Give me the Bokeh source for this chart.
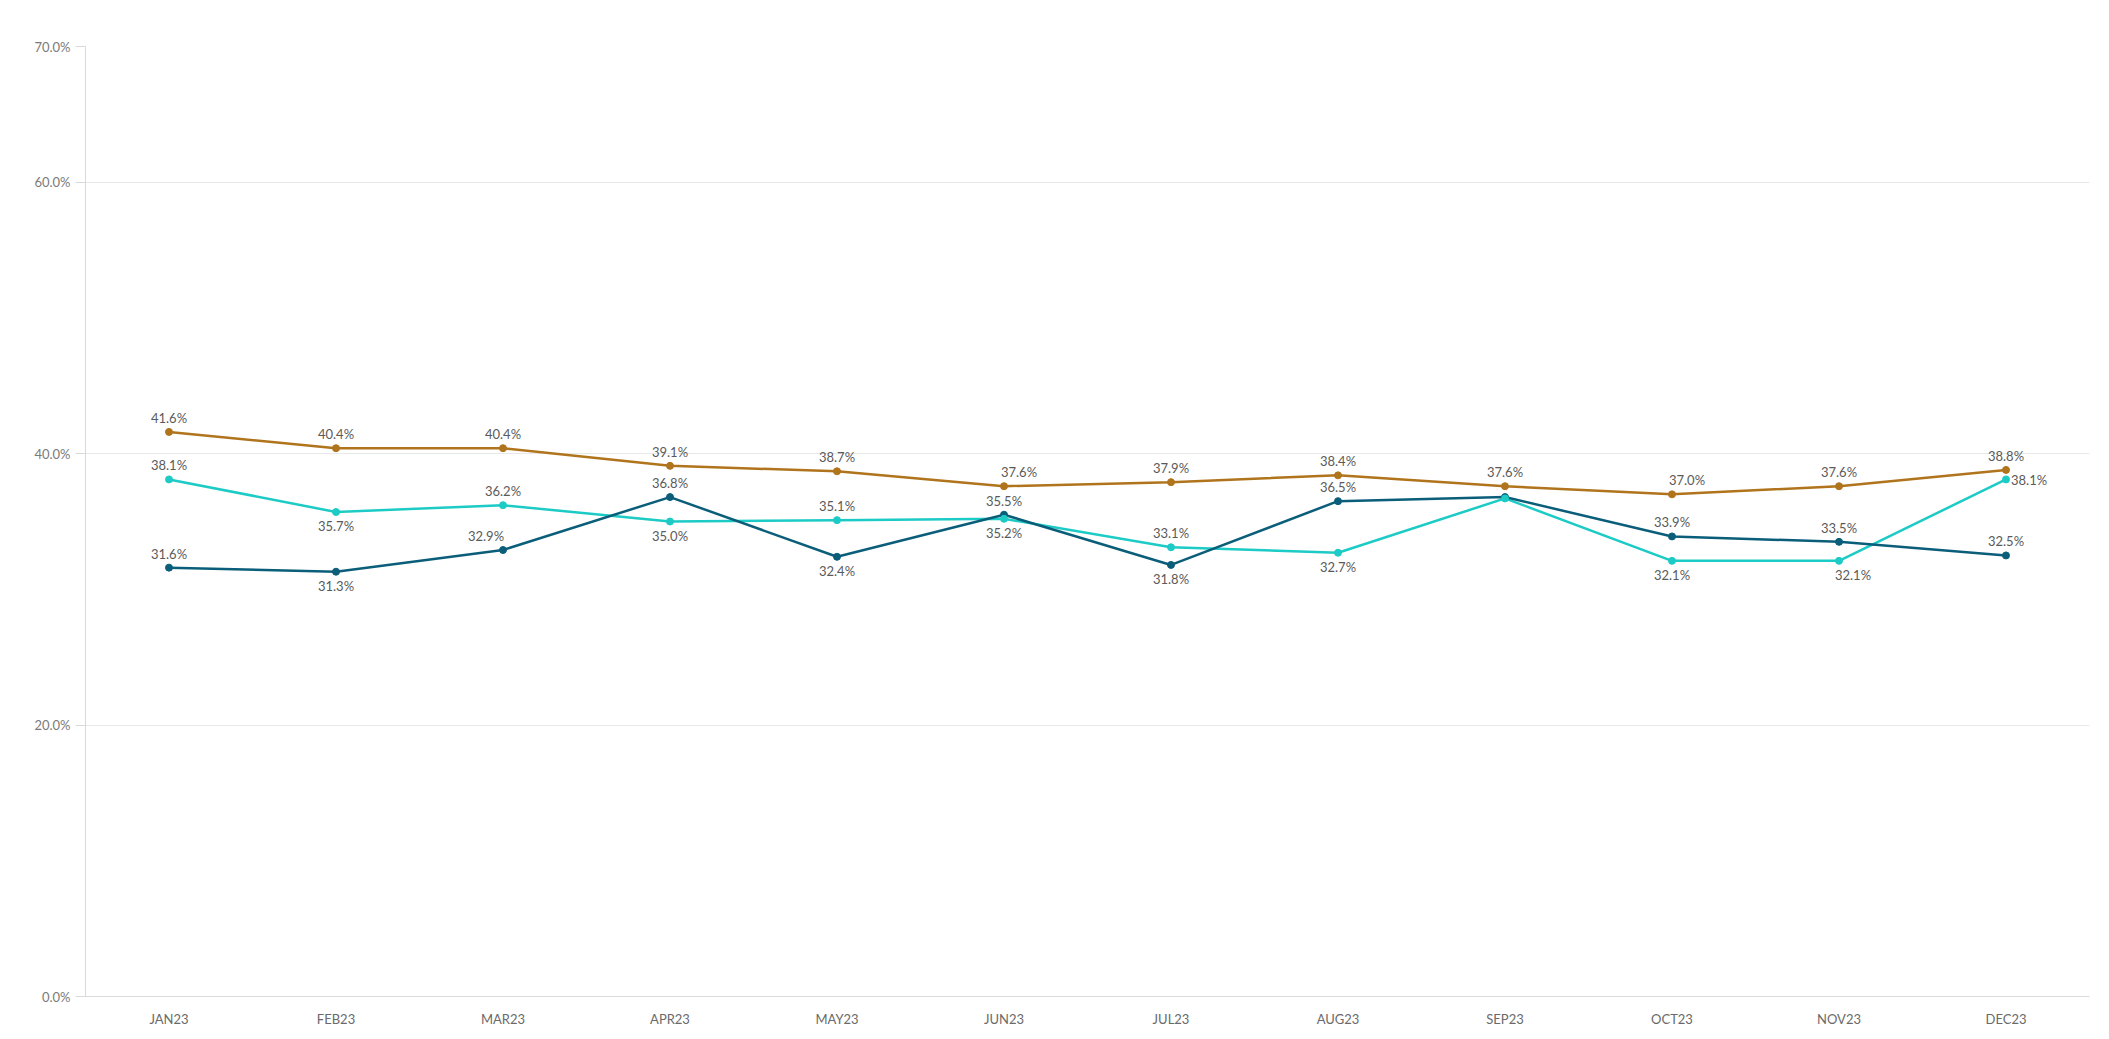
from bokeh.plotting import figure
from bokeh.models import ColumnDataSource, FactorRange, Range1d, FixedTicker, PrintfTickFormatter
from bokeh.core.properties import value
from bokeh.embed import file_html
from bokeh.resources import INLINE

months = ["JAN23", "FEB23", "MAR23", "APR23", "MAY23", "JUN23",
          "JUL23", "AUG23", "SEP23", "OCT23", "NOV23", "DEC23"]
series_orange = [41.6, 40.4, 40.4, 39.1, 38.7, 37.6, 37.9, 38.4, 37.6, 37.0, 37.6, 38.8]
series_cyan = [38.1, 35.7, 36.2, 35.0, 35.1, 35.2, 33.1, 32.7, 36.7, 32.1, 32.1, 38.1]
series_dark = [31.6, 31.3, 32.9, 36.8, 32.4, 35.5, 31.8, 36.5, 36.8, 33.9, 33.5, 32.5]
y_ticks = [0, 20, 40, 60, 70]

# label placement per point: t=top, b=bottom, tr/tl/br shifted, r=right, "" none
place_orange = ["t", "t", "t", "t", "t", "tr", "t", "t", "t", "tr", "t", "t"]
place_cyan = ["t", "b", "t", "b", "t", "b", "t", "b", "", "b", "br", "r"]
place_dark = ["t", "b", "tl", "t", "b", "t", "b", "t", "", "t", "t", "t"]

C_ORANGE = "#b0741c"
C_CYAN = "#1ccbc5"
C_DARK = "#0a5e7a"

p = figure(x_range=FactorRange(*months), y_range=Range1d(0, 70),
           width=2101, height=1031, output_backend="svg", toolbar_location=None,
           min_border_left=85, min_border_top=46, min_border_right=12, min_border_bottom=35)
p.outline_line_color = None
p.background_fill_color = "white"
p.border_fill_color = "white"

p.xgrid.grid_line_color = None
p.ygrid.grid_line_color = "#e8e8e8"
p.ygrid.grid_line_width = 1

p.yaxis.ticker = FixedTicker(ticks=y_ticks)
p.yaxis.formatter = PrintfTickFormatter(format="%.1f%%")
p.yaxis.axis_line_color = "#d9d9d9"
p.yaxis.major_tick_line_color = "#d9d9d9"
p.yaxis.major_tick_out = 10
p.yaxis.major_tick_in = 0
p.yaxis.minor_tick_line_color = None
p.yaxis.major_label_standoff = 5
p.yaxis.major_label_text_color = "#7a7a7a"
p.yaxis.major_label_text_font = "Lato"
p.yaxis.major_label_text_font_size = "13px"

p.xaxis.axis_line_color = "#d9d9d9"
p.xaxis.major_tick_line_color = None
p.xaxis.major_tick_out = 0
p.xaxis.major_tick_in = 0
p.xaxis.minor_tick_line_color = None
p.xaxis.major_label_standoff = 14
p.xaxis.major_label_text_color = "#6a6a6a"
p.xaxis.major_label_text_font = "Lato"
p.xaxis.major_label_text_font_size = "13px"

OFFS = {
    "t": (0, -14, "center"),
    "b": (0, 14, "center"),
    "tr": (15, -14, "center"),
    "tl": (-17, -14, "center"),
    "br": (14, 14, "center"),
    "r": (5, 1, "left"),
}


def add_labels(vals, places):
    for align in ("center", "left"):
        xs, ys, txt, xo, yo = [], [], [], [], []
        for m, v, pl in zip(months, vals, places):
            if not pl:
                continue
            dx, dy, al = OFFS[pl]
            if al != align:
                continue
            xs.append(m); ys.append(v); txt.append(f"{v:.1f}%"); xo.append(dx); yo.append(dy)
        if not xs:
            continue
        src = ColumnDataSource(dict(x=xs, y=ys, t=txt, xo=xo, yo=yo))
        p.text(x="x", y="y", text="t", source=src, x_offset="xo", y_offset="yo",
               text_align=align, text_baseline="middle", text_color="#5a5a5a",
               text_font=value("Lato"), text_font_size="13px")


for vals, col in ((series_orange, C_ORANGE), (series_cyan, C_CYAN), (series_dark, C_DARK)):
    p.line(months, vals, line_color=col, line_width=2.5)
for vals, col in ((series_orange, C_ORANGE), (series_dark, C_DARK), (series_cyan, C_CYAN)):
    p.scatter(months, vals, size=7, fill_color=col, line_color=col)

add_labels(series_orange, place_orange)
add_labels(series_cyan, place_cyan)
add_labels(series_dark, place_dark)

open("out.html", "w").write(file_html(p, INLINE))
